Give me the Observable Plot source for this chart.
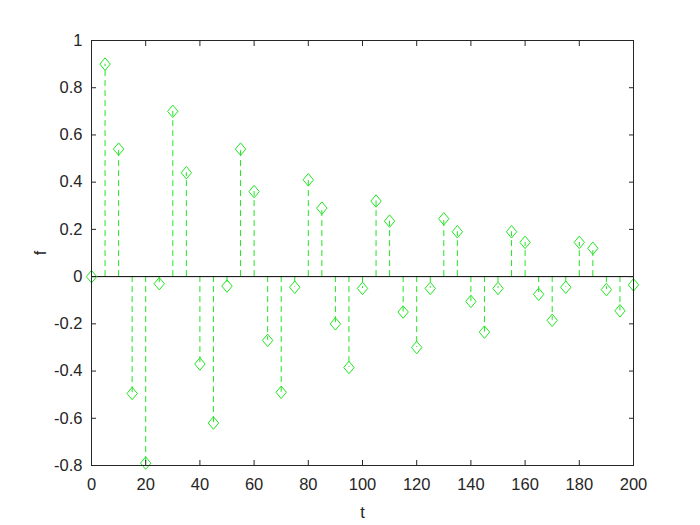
<!DOCTYPE html>
<html>
<head>
<meta charset="utf-8">
<script src="https://cdn.jsdelivr.net/npm/d3@7"></script>
<script src="https://cdn.jsdelivr.net/npm/@observablehq/plot@0.6"></script>
<style>
  html, body { margin: 0; padding: 0; background: #fff; }
</style>
</head>
<body>
<div id="chart"></div>
<script>
const t = [0,5,10,15,20,25,30,35,40,45,50,55,60,65,70,75,80,85,90,95,100,105,110,115,120,125,130,135,140,145,150,155,160,165,170,175,180,185,190,195,200];
const f = [0,0.90,0.54,-0.495,-0.79,-0.03,0.70,0.44,-0.37,-0.62,-0.04,0.54,0.36,-0.27,-0.49,-0.045,0.41,0.29,-0.20,-0.385,-0.05,0.32,0.235,-0.15,-0.30,-0.05,0.245,0.19,-0.105,-0.235,-0.05,0.19,0.145,-0.075,-0.185,-0.045,0.145,0.12,-0.055,-0.145,-0.035];
const xTicks = [0,20,40,60,80,100,120,140,160,180,200];
const yTicks = [-0.8,-0.6,-0.4,-0.2,0,0.2,0.4,0.6,0.8,1];

const data = t.map((v, i) => ({t: v, f: f[i]}));
const green = "#22e622";

const diamond = {
  draw(ctx, size) {
    const s = Math.sqrt(size / Math.PI);
    ctx.moveTo(0, -1.2 * s);
    ctx.lineTo(s, 0);
    ctx.lineTo(0, 1.2 * s);
    ctx.lineTo(-s, 0);
    ctx.closePath();
  }
};

const fmtY = d => String(+d.toFixed(1));

const chart = Plot.plot({
  width: 700,
  height: 525,
  marginLeft: 91,
  marginRight: 67,
  marginTop: 40,
  marginBottom: 60,
  style: {fontFamily: "'Liberation Sans', Arial, sans-serif", fontSize: "16.5px", color: "#262626", background: "#fff"},
  x: {domain: [0, 200]},
  y: {domain: [-0.8, 1]},
  marks: [
    Plot.ruleX(data, {x: "t", y1: 0, y2: "f", stroke: green, strokeDasharray: "6,4"}),
    Plot.ruleY([0], {stroke: "#000"}),
    Plot.dot(data, {x: "t", y: "f", symbol: diamond, r: 5.2, stroke: green, fill: "none", strokeWidth: 1}),
    Plot.frame({stroke: "#262626"}),
    Plot.axisX(xTicks, {anchor: "bottom", tickSize: -5, tickPadding: 18, label: "t", labelAnchor: "center", labelArrow: "none", labelOffset: 52}),
    Plot.axisX(xTicks, {anchor: "top", tickSize: -5, tickFormat: () => "", label: null}),
    Plot.axisY(yTicks, {anchor: "left", tickSize: -5, tickPadding: 14, tickFormat: fmtY, label: "f", labelAnchor: "center", labelArrow: "none", labelOffset: 57}),
    Plot.axisY(yTicks, {anchor: "right", tickSize: -5, tickFormat: () => "", label: null})
  ]
});
document.getElementById("chart").appendChild(chart);
</script>
</body>
</html>
